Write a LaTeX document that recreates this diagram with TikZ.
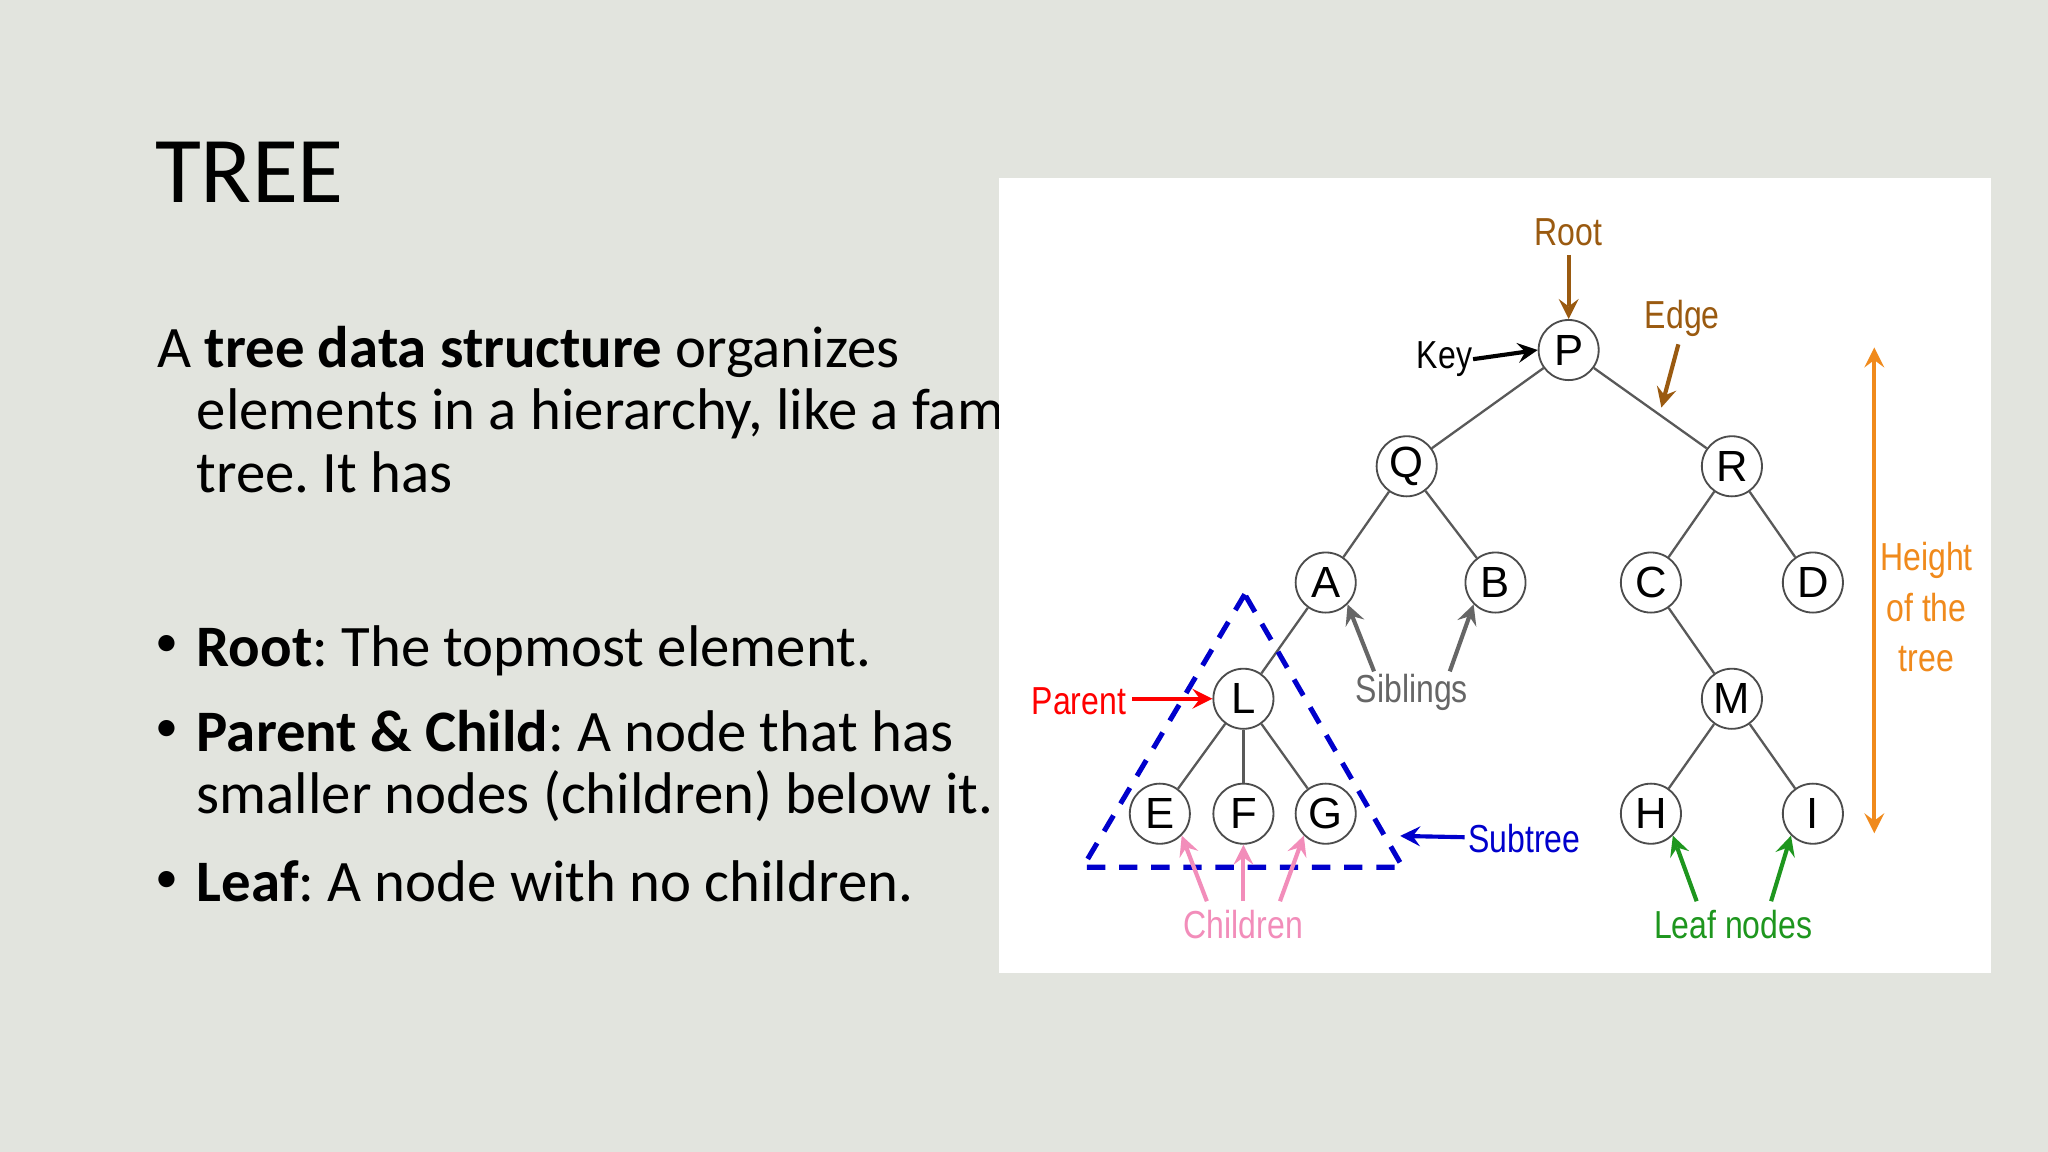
\documentclass[tikz,border=0pt]{standalone}
\usepackage{fontspec}
\setmainfont{Carlito}
\newfontfamily\lab[FakeStretch=0.82]{Liberation Sans}
\newfontfamily\nodef{Liberation Sans}
\frenchspacing
\begin{document}
\begin{tikzpicture}[x=0.01cm,y=-0.01cm,
  tn/.style={circle,draw=black!70,fill=white,minimum size=0.46cm,inner sep=0pt,font=\nodef\fontsize{9.5}{10}\selectfont},
  lb/.style={font=\lab\fontsize{8.5}{9}\selectfont,inner sep=0pt},
  body/.style={anchor=base west,inner sep=0pt,font=\fontsize{12.8}{14}\selectfont},
  ed/.style={draw=black!65,line width=0.5pt},
  ar/.style={-stealth,line width=0.9pt}]
\definecolor{bg}{HTML}{E2E4DE}
\definecolor{brn}{HTML}{9A5A10}
\definecolor{org}{HTML}{F08A1C}
\definecolor{pnk}{HTML}{F28DBA}
\definecolor{grn}{HTML}{1E961E}
\fill[bg] (0,0) rectangle (1568,882);
\useasboundingbox (0,0) rectangle (1568,882);
\node[anchor=base west,inner sep=0pt,font=\fontsize{20.5}{24}\selectfont] (title) at (118,155) {TREE};
\node[body] (t1) at (120,281) {A \textbf{tree data structure} organizes};
\node[body] (t2) at (150,329) {elements in a hierarchy, like a family};
\node[body] (t3) at (150,377) {tree. It has};
\node[body] (b1) at (150,510) {\textbf{Root}: The topmost element.};
\node[body] (b2) at (150,575) {\textbf{Parent \& Child}: A node that has};
\node[body] (b2b) at (150,623) {smaller nodes (children) below it.};
\node[body] (b3) at (150,690) {\textbf{Leaf}: A node with no children.};
\foreach \yy/\nm in {503/d1,568/d2,683/d3}{\node[body,anchor=base,font=\fontsize{10}{10}\selectfont] (\nm) at (128,\yy) {•};}
\fill[white] (765,136) rectangle (1524,745);
% tree
\node[tn] (P) at (1201,268) {P};
\node[tn] (Q) at (1077,357) {Q};
\node[tn] (R) at (1326,357) {R};
\node[tn] (A) at (1015,446) {A};
\node[tn] (B) at (1145,446) {B};
\node[tn] (C) at (1264,446) {C};
\node[tn] (D) at (1388,446) {D};
\node[tn] (L) at (952,535) {L};
\node[tn] (M) at (1326,535) {M};
\node[tn] (E) at (888,623) {E};
\node[tn] (F) at (952,623) {F};
\node[tn] (G) at (1015,623) {G};
\node[tn] (H) at (1264,623) {H};
\node[tn] (I) at (1388,623) {I};
\foreach \a/\b in {P/Q,P/R,Q/A,Q/B,R/C,R/D,A/L,C/M,L/E,L/F,L/G,M/H,M/I}{\draw[ed] (\a) -- (\b);}
% subtree triangle
\coordinate (s1) at (953,455); \coordinate (s2) at (829,664); \coordinate (s3) at (1074,664);
\draw[blue!80!black,line width=1.1pt,dash pattern=on 4pt off 3pt] (s1) -- (s2) -- (s3) -- cycle;
% labels
\node[lb,text=brn] (root) at (1201,178) {Root};
\draw[ar,brn] (root.south) ++(0,6) -- (P.north);
\node[lb] (key) at (1106,275) {Key};
\draw[ar,black] (key.east) -- (P.west);
\node[lb,text=brn] (edge) at (1288,244) {Edge};
\coordinate (ee) at (1272,312);
\draw[ar,brn] (edge.south) ++(-3,5) -- (ee);
\coordinate (h1) at (1435,266); \coordinate (h2) at (1435,638);
\draw[stealth-stealth,org,line width=0.9pt] (h1) -- (h2);
\node[lb,text=org,align=center,font=\lab\fontsize{8.5}{11}\selectfont] (ht) at (1475,465) {Height\\of the\\tree};
\node[lb,text=red] (par) at (826,537) {Parent};
\draw[ar,red] (par.east) ++(4,-2) -- (L.west);
\node[lb,text=black!60] (sib) at (1081,530) {Siblings};
\draw[ar,black!60] (1052,514) -- (A.south east);
\draw[ar,black!60] (1110,514) -- (B.south west);
\node[lb,text=blue!80!black] (sub) at (1167,642) {Subtree};
\coordinate (se) at (1072,640);
\draw[ar,blue!80!black] (sub.west) ++(-2,-1) -- (se);
\node[lb,text=pnk] (ch) at (952,708) {Children};
\draw[ar,pnk] (924,690) -- (E.south east);
\draw[ar,pnk] (952,690) -- (F.south);
\draw[ar,pnk] (980,690) -- (G.south west);
\node[lb,text=grn] (leaf) at (1327,708) {Leaf nodes};
\draw[ar,grn] (1299,690) -- (H.south east);
\draw[ar,grn] (1356,690) -- (I.south west);
\end{tikzpicture}
\end{document}
